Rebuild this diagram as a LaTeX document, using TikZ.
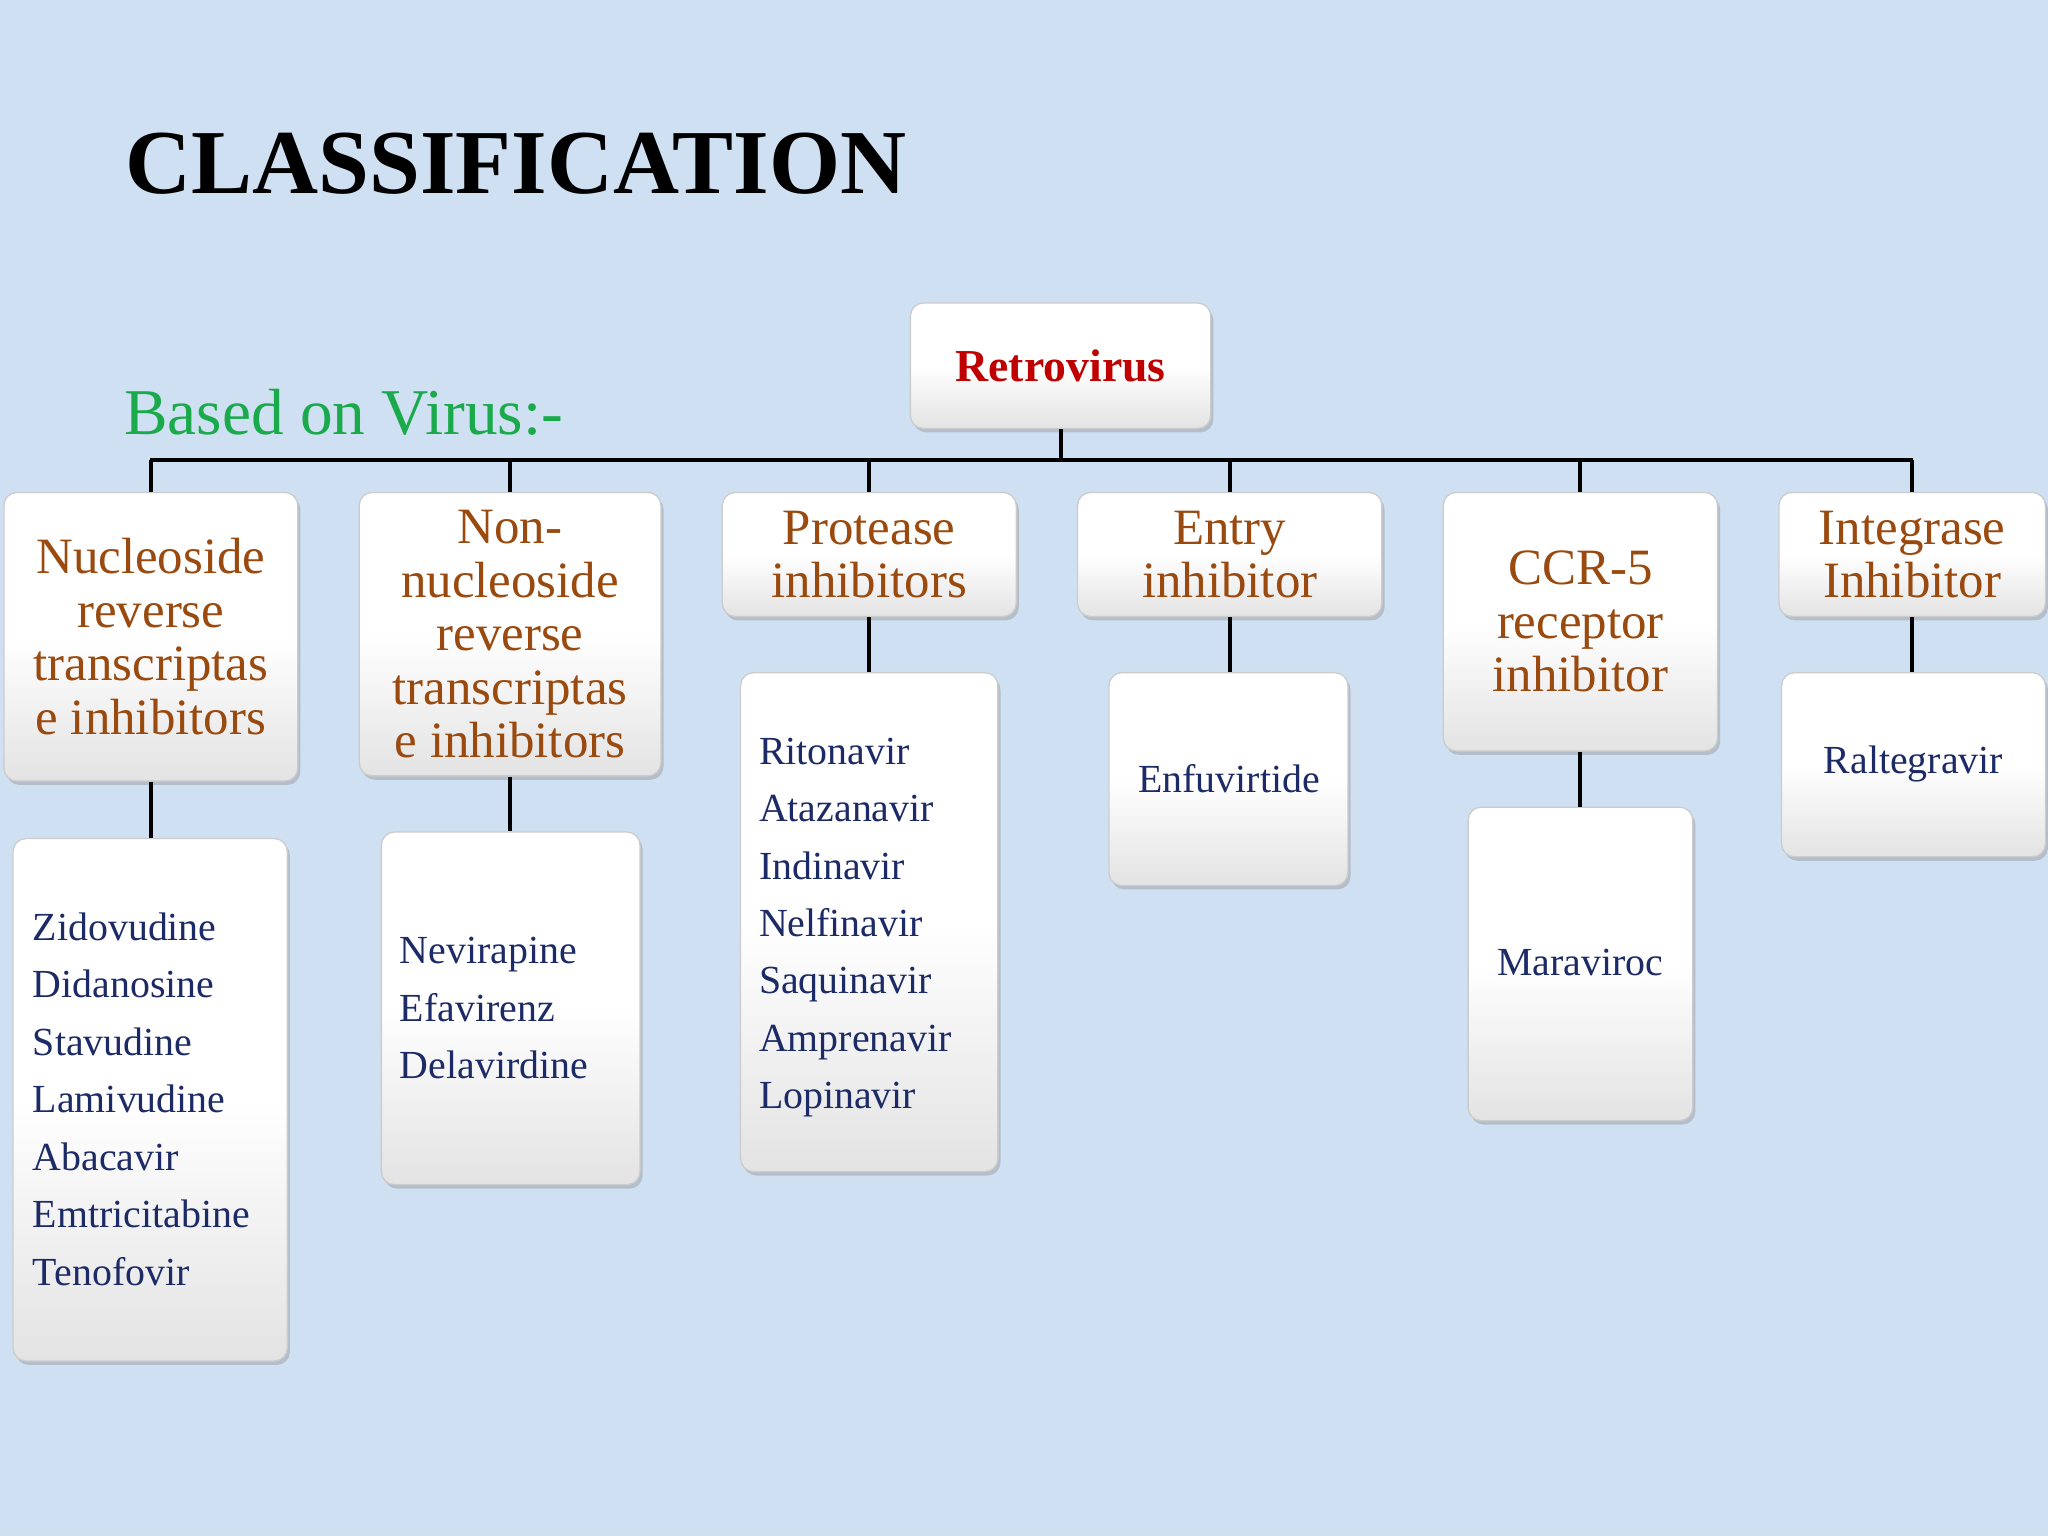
\documentclass[tikz,border=0pt]{standalone}
\usepackage{fontspec}
\setmainfont{Liberation Serif}
\usetikzlibrary{shadows}
\definecolor{bg}{HTML}{CFE0F2}
\definecolor{brn}{HTML}{9A4A0E}
\definecolor{nav}{HTML}{1C2A66}
\definecolor{rd}{HTML}{C00000}
\definecolor{grn}{HTML}{1AAA4C}
\begin{document}
\begin{tikzpicture}[x=1pt,y=-1pt,
  box/.style={rectangle,rounded corners=10pt,draw=gray!40,line width=1pt,top color=white,bottom color=gray!22,middle color=white,
    drop shadow={shadow xshift=2pt,shadow yshift=-3pt,opacity=0.35},inner sep=0pt,align=center},
  cat/.style={box,text=brn,font=\fontsize{39}{41}\selectfont},
  drug/.style={box},
  dt/.style={text=nav,font=\fontsize{30.5}{44}\selectfont,inner sep=0pt},
  ln/.style={line width=3pt,black}]
\fill[bg] (0,0) rectangle (1568,1176);
\useasboundingbox (0,0) rectangle (1568,1176);
\node[anchor=base west,font=\fontsize{70}{72}\selectfont\bfseries,inner sep=0pt] (title) at (96,148) {CLASSIFICATION};
\node[anchor=base west,text=grn,font=\fontsize{50}{52}\selectfont,inner sep=0pt] (based) at (95,333) {Based on Virus:-};
\node[box,minimum width=230pt,minimum height=96pt,text=rd,font=\fontsize{35}{36}\selectfont\bfseries] (r) at (812,280) {Retrovirus};
\node[cat,minimum width=225pt,minimum height=221pt] (c1) at (115.5,487.5) {Nucleoside\\reverse\\transcriptas\\e inhibitors};
\node[cat,minimum width=231pt,minimum height=217pt] (c2) at (390.5,485.5) {Non-\\nucleoside\\reverse\\transcriptas\\e inhibitors};
\node[cat,minimum width=225pt,minimum height=95pt] (c3) at (665.5,424.5) {Protease\\inhibitors};
\node[cat,minimum width=233pt,minimum height=95pt] (c4) at (941.5,424.5) {Entry\\inhibitor};
\node[cat,minimum width=210pt,minimum height=198pt] (c5) at (1210,476) {CCR-5\\receptor\\inhibitor};
\node[cat,minimum width=204pt,minimum height=95pt] (c6) at (1464,424.5) {Integrase\\Inhibitor};
\node[drug,minimum width=210pt,minimum height=400pt] (d1) at (115,842) {};
\node[drug,minimum width=198pt,minimum height=270pt] (d2) at (391,772) {};
\node[drug,minimum width=197pt,minimum height=382pt] (d3) at (665.5,706) {};
\node[drug,minimum width=183pt,minimum height=163pt] (d4) at (940.5,596.5) {};
\node[drug,minimum width=172pt,minimum height=240pt] (d5) at (1210,738) {};
\node[drug,minimum width=202pt,minimum height=141pt] (d6) at (1465,585.5) {};
\node[dt,anchor=base west,align=left] (t1) at (25,984) {Zidovudine\\Didanosine\\Stavudine\\Lamivudine\\Abacavir\\Emtricitabine\\Tenofovir};
\node[dt,anchor=base west,align=left] (t2) at (306,826) {Nevirapine\\Efavirenz\\Delavirdine};
\node[dt,anchor=base west,align=left] (t3) at (581,849) {Ritonavir\\Atazanavir\\Indinavir\\Nelfinavir\\Saquinavir\\Amprenavir\\Lopinavir};
\node[dt] (t4) at (941,596) {Enfuvirtide};
\node[dt] (t5) at (1210,737) {Maraviroc};
\node[dt] (t6) at (1465,585) {Raltegravir};
\coordinate (bl) at (115,352);
\coordinate (br) at (1465,352);
\draw[ln] (bl) -- (br);
\draw[ln] (r.south) -- (812,352);
\foreach \i in {1,...,6}{
  \draw[ln] (c\i.north) -- (c\i.north |- bl);
  \draw[ln] (c\i.south) -- (d\i.north -| c\i.south);
}
\end{tikzpicture}
\end{document}
